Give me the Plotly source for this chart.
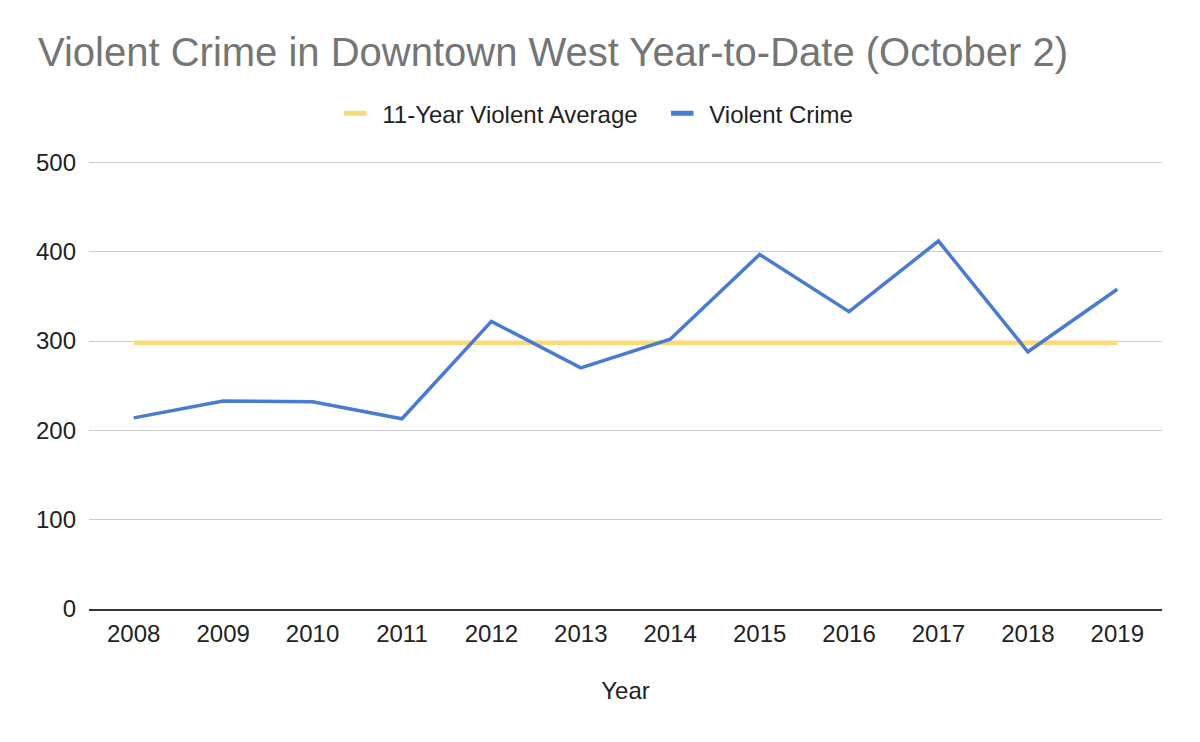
import plotly.graph_objects as go

# values
years = ["2008", "2009", "2010", "2011", "2012", "2013",
         "2014", "2015", "2016", "2017", "2018", "2019"]
violent_crime = [214, 233, 232, 213, 322, 270, 302, 397, 333, 412, 288, 358]
violent_average = [298, 298, 298, 298, 298, 298, 298, 298, 298, 298, 298, 298]
y_ticks = [0, 100, 200, 300, 400, 500]

FONT = "Liberation Sans, Arial, sans-serif"
YELLOW = "#f9d978"
BLUE = "#4a7bd2"

# page body adds an 8px margin, so the figure is drawn 8px smaller
W, H = 1192, 734
Y_TOP = 505  # a bit of headroom so the 500 gridline gets drawn

fig = go.Figure()

# yellow 11-year average first so the blue line sits on top
fig.add_trace(go.Scatter(
    x=years, y=violent_average, mode="lines", name="11-Year Violent Average",
    line=dict(color=YELLOW, width=4.5), showlegend=False,
))
fig.add_trace(go.Scatter(
    x=years, y=violent_crime, mode="lines", name="Violent Crime",
    line=dict(color=BLUE, width=3.5), showlegend=False,
))

# legend entries drawn as flat rectangles like Sheets does
for name, color in [("11-Year Violent Average", YELLOW), ("Violent Crime", BLUE)]:
    fig.add_trace(go.Scatter(
        x=[None], y=[None], mode="markers", name=name,
        marker=dict(symbol="line-ew", size=24, line=dict(color=color, width=8)),
    ))

plot_h = 447 * Y_TOP / 500
fig.update_layout(
    width=W, height=H,
    paper_bgcolor="white", plot_bgcolor="white",
    margin=dict(l=81, r=38, t=round(601 - plot_h), b=133),
    font=dict(family=FONT, size=24, color="#222222"),
    title=dict(
        text="Violent Crime in Downtown West Year-to-Date (October 2)",
        x=30 / W, xref="container", xanchor="left",
        y=1 - 44 / H, yref="container", yanchor="middle",
        font=dict(family=FONT, size=40, color="#757575"),
    ),
    legend=dict(
        orientation="h", x=0.223, xanchor="left",
        y=1 + 44.5 / plot_h, yanchor="middle",
        font=dict(size=24, color="#222222"), itemwidth=44,
        entrywidth=268, tracegroupgap=0,
    ),
    showlegend=True,
)

fig.update_xaxes(
    type="category", range=[-0.5, 11.5],
    showgrid=False, showline=True, linecolor="#333333", linewidth=2,
    ticks="", ticklabelstandoff=2,
    title=dict(text="Year", standoff=36, font=dict(size=24)),
)
fig.update_yaxes(
    range=[0, Y_TOP], tickvals=y_ticks,
    showgrid=True, gridcolor="#cccccc", gridwidth=1.3,
    zeroline=False, showline=False, ticks="", ticklabelstandoff=12,
)

fig.write_html("out.html")
